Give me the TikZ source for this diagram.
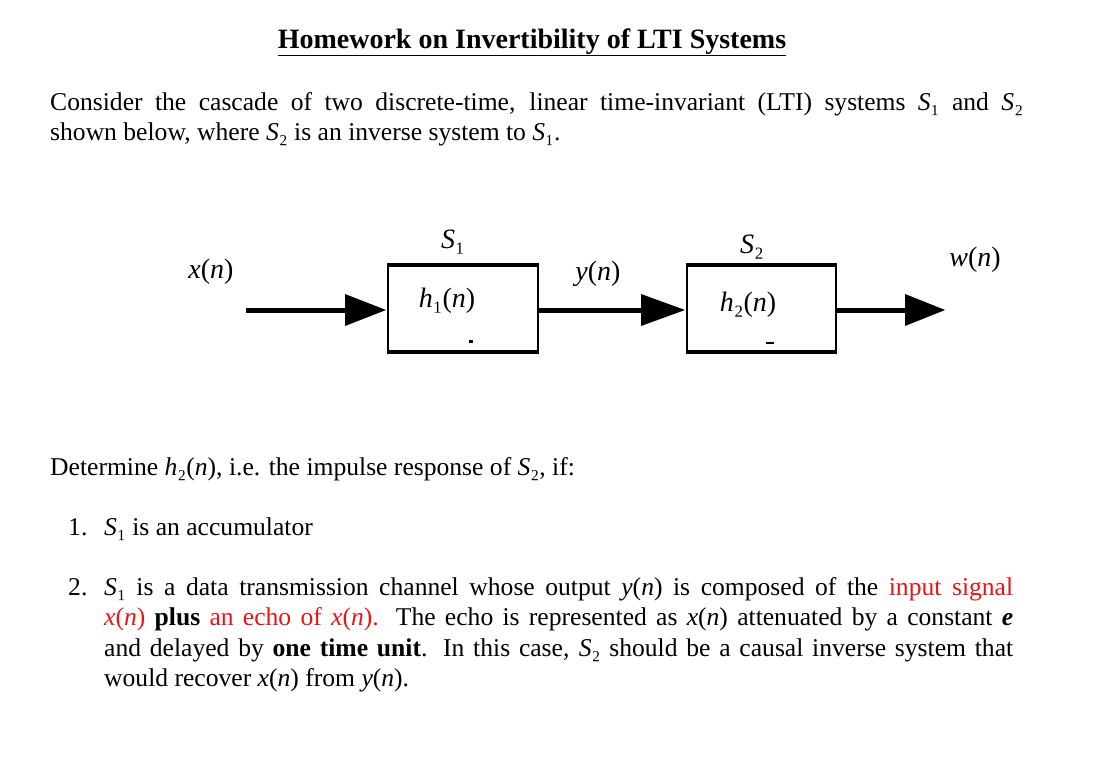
\documentclass[tikz,border=0pt]{standalone}
\usepackage{fontspec}
\setmainfont{Liberation Serif}
\usepackage{xcolor}
\definecolor{myred}{RGB}{235,20,20}
\newcommand{\vi}[1]{\textit{#1}}
\newcommand{\xn}{\vi{x}(\vi{n})}
\newcommand{\yn}{\vi{y}(\vi{n})}
\begin{document}
\begin{tikzpicture}[x=1pt,y=-1pt,
  txt/.style={anchor=base west,inner sep=0pt,font=\fontsize{25.6}{30.5}\selectfont},
  par/.style={txt,text width=#1,align=justify},
  lbl/.style={inner sep=0pt,font=\fontsize{28}{30}\selectfont},
  sig/.style={line width=5pt},
  tip/.style={fill=black}]
\useasboundingbox (0,0) rectangle (1099,763);
\node[txt,anchor=base,font=\fontsize{28}{30}\selectfont] (title) at (532,48) {\textbf{\underline{Homework on Invertibility of LTI Systems}}};
\node[par=973pt] (p1) at (50,110) {Consider the cascade of two discrete-time, linear time-invariant (LTI) systems \vi{S}₁ and \vi{S}₂\linebreak shown below, where \vi{S}₂ is an inverse system to \vi{S}₁.\par};
% boxes
\draw[line width=2pt] (388,265) rectangle (538,352);
\draw[line width=4pt] (387,265) -- (539,265) (387,352) -- (539,352);
\draw[line width=2pt] (687,265) rectangle (836,352);
\draw[line width=4pt] (686,265) -- (837,265) (686,352) -- (837,352);
\coordinate (b1w) at (388,310); \coordinate (b1e) at (538,310);
\coordinate (b2w) at (687,310); \coordinate (b2e) at (836,310);
\coordinate (in) at (246,310); \coordinate (out) at (945,310);
\draw[sig] (in) -- (346,310); \fill[tip] (345,294) -- (386,310) -- (345,326) -- cycle;
\draw[sig] (b1e) -- (642,310); \fill[tip] (641,294) -- (685,310) -- (641,326) -- cycle;
\draw[sig] (b2e) -- (906,310); \fill[tip] (905,294) -- (945,310) -- (905,326) -- cycle;
\fill (469,340) rectangle (473,343);
\fill (766,342) rectangle (774,343.5);
\node[lbl] (lx) at (211,272) {\xn};
\node[lbl] (ls1) at (453,242) {\vi{S}₁};
\node[lbl] (lh1) at (447,301) {\vi{h}₁(\vi{n})};
\node[lbl] (ly) at (598,274) {\yn};
\node[lbl] (ls2) at (752,247) {\vi{S}₂};
\node[lbl] (lh2) at (748,305) {\vi{h}₂(\vi{n})};
\node[lbl] (lw) at (975,260) {\vi{w}(\vi{n})};
\node[txt] (det) at (50,475) {Determine \vi{h}₂(\vi{n}), i.e. the impulse response of \vi{S}₂, if:};
\node[txt] (n1) at (68,535) {1.};
\node[txt] (i1) at (104,535) {\vi{S}₁ is an accumulator};
\node[txt] (n2) at (68,595) {2.};
\node[par=909pt] (i2) at (104,595) {\vi{S}₁ is a data transmission channel whose output \yn{} is composed of the \textcolor{myred}{input signal\linebreak \xn} \textbf{plus} \textcolor{myred}{an echo of \xn.} The echo is represented as \xn{} attenuated by a constant \textbf{\textit{e}}\linebreak and delayed by \textbf{one time unit}. In this case, \vi{S}₂ should be a causal inverse system that\linebreak would recover \xn{} from \yn.\par};
\end{tikzpicture}
\end{document}
